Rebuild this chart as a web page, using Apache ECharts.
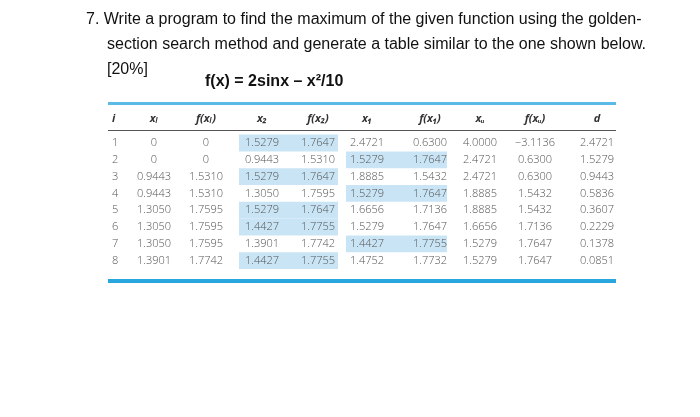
<!DOCTYPE html>
<html>
<head>
<meta charset="utf-8">
<script src="https://cdn.jsdelivr.net/npm/echarts@6/dist/echarts.min.js"></script>
<style>html,body{margin:0;background:#fff}#main{width:700px;height:417px}</style>
</head>
<body>
<div id="main"></div>
<script>
// 表头与数据
var headers = ['i', 'x\u2097', 'f(x\u2097)', 'x\u2082', 'f(x\u2082)', 'x\u2081', 'f(x\u2081)', 'x\u1d64', 'f(x\u1d64)', 'd'];
var iters = ['1', '2', '3', '4', '5', '6', '7', '8'];
var xl  = ['0', '0', '0.9443', '0.9443', '1.3050', '1.3050', '1.3050', '1.3901'];
var fxl = ['0', '0', '1.5310', '1.5310', '1.7595', '1.7595', '1.7595', '1.7742'];
var x2  = ['1.5279', '0.9443', '1.5279', '1.3050', '1.5279', '1.4427', '1.3901', '1.4427'];
var fx2 = ['1.7647', '1.5310', '1.7647', '1.7595', '1.7647', '1.7755', '1.7742', '1.7755'];
var x1  = ['2.4721', '1.5279', '1.8885', '1.5279', '1.6656', '1.5279', '1.4427', '1.4752'];
var fx1 = ['0.6300', '1.7647', '1.5432', '1.7647', '1.7136', '1.7647', '1.7755', '1.7732'];
var xu  = ['4.0000', '2.4721', '2.4721', '1.8885', '1.8885', '1.6656', '1.5279', '1.5279'];
var fxu = ['\u22123.1136', '0.6300', '0.6300', '1.5432', '1.5432', '1.7136', '1.7647', '1.7647'];
var dd  = ['2.4721', '1.5279', '0.9443', '0.5836', '0.3607', '0.2229', '0.1378', '0.0851'];
// 高亮：哪一组(x2或x1)是当前最优
var best = ['x2', 'x1', 'x2', 'x1', 'x2', 'x2', 'x1', 'x2'];

var columns = [iters, xl, fxl, x2, fx2, x1, fx1, xu, fxu, dd];
// 版面
var colX = [115, 154, 206, 262, 318, 367, 430, 480, 535, 597];
var headY = 119, rowY0 = 143, rowH = 16.8;

var cells = [];
for (var c = 0; c < columns.length; c++) {
    cells.push([c, -1, headers[c]]);
    for (var r = 0; r < iters.length; r++) cells.push([c, r, columns[c][r]]);
}
var hl = [];
for (var r = 0; r < best.length; r++) hl.push([best[r] == 'x2' ? 0 : 1, r]);

var tfont = '16px "Liberation Sans"';
var myChart = echarts.init(document.getElementById('main'));
myChart.setOption({
    animation: false,
    grid: {left: 0, top: 0, width: 700, height: 417},
    xAxis: {type: 'value', min: 0, max: 700, show: false},
    yAxis: {type: 'value', min: 0, max: 417, inverse: true, show: false},
    graphic: [
        {type: 'text', left: 86, top: 12, style: {text: '7. Write a program to find the maximum of the given function using the golden-', font: tfont, fill: '#111'}},
        {type: 'text', left: 107, top: 37, style: {text: 'section search method and generate a table similar to the one shown below.', font: tfont, fill: '#111'}},
        {type: 'text', left: 107, top: 62, style: {text: '[20%]', font: tfont, fill: '#111'}},
        {type: 'text', left: 205, top: 74, style: {text: 'f(x) = 2sinx \u2013 x\u00b2/10', font: 'bold 16px "Liberation Sans"', fill: '#111'}},
        {type: 'rect', shape: {x: 108, y: 102, width: 508, height: 3}, style: {fill: '#5bbbe6'}},
        {type: 'rect', shape: {x: 108, y: 130, width: 508, height: 1}, style: {fill: '#555'}},
        {type: 'rect', shape: {x: 108, y: 279, width: 508, height: 4}, style: {fill: '#2aa6de'}}
    ],
    series: [
        {
            type: 'custom',
            data: hl,
            renderItem: function (params, api) {
                var left = api.value(0) == 0 ? 239 : 346;
                var w = api.value(0) == 0 ? 99 : 101;
                var p = api.coord([left, rowY0 + api.value(1) * rowH]);
                return {type: 'rect', shape: {x: p[0], y: p[1] - rowH / 2, width: w, height: rowH}, style: {fill: '#c9e5f5'}};
            }
        },
        {
            type: 'custom',
            data: cells,
            renderItem: function (params, api) {
                var c = api.value(0), r = api.value(1);
                var txt = cells[params.dataIndex][2];
                var y = r < 0 ? headY : rowY0 + r * rowH;
                var p = api.coord([colX[c], y]);
                var head = r < 0;
                var align = c == 0 ? 'left' : 'center';
                return {type: 'text', x: c == 0 ? p[0] - 3 : p[0], y: p[1], style: {
                    text: txt, textAlign: align, textVerticalAlign: 'middle',
                    font: (head ? 'italic bold 11px ' : '300 11px ') + '"Open Sans"',
                    fill: head ? '#333' : '#555'
                }};
            }
        }
    ]
});
</script>
</body>
</html>
